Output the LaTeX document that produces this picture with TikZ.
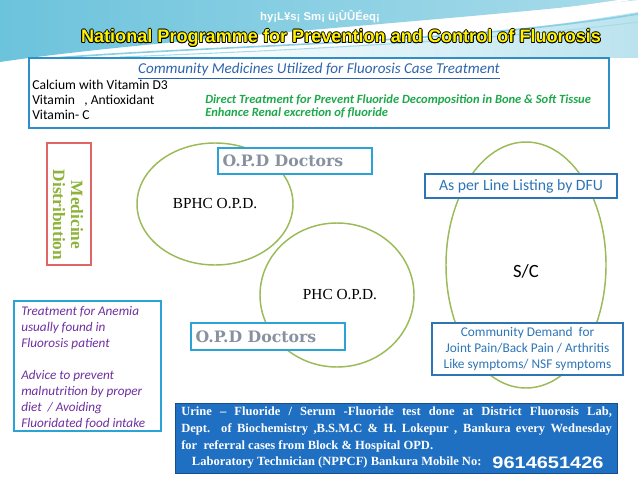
\documentclass[tikz,border=0pt]{standalone}
\usepackage{fontspec}
\setmainfont{Carlito}
\newfontfamily\serifb{Liberation Serif}[Ligatures=TeX]
\newfontfamily\slab{DejaVu Serif}
\newfontfamily\sansf{Liberation Sans}
\usetikzlibrary{shapes.geometric}
\definecolor{hdrL}{HTML}{6CC3DC}
\definecolor{hdrR}{HTML}{A9DCEA}
\definecolor{boxblue}{HTML}{2E8FC8}
\definecolor{opdblue}{HTML}{2BA3D6}
\definecolor{lineblue}{HTML}{2E75B6}
\definecolor{ellgreen}{HTML}{9BBB59}
\definecolor{medgreen}{HTML}{8DB33A}
\definecolor{medred}{HTML}{E06666}
\definecolor{txtgreen}{HTML}{1EA84C}
\definecolor{titleblue}{HTML}{2E64AE}
\definecolor{purp}{HTML}{7030A0}
\definecolor{opdgray}{HTML}{8891A0}
\definecolor{labfill}{HTML}{1F6FC2}
\definecolor{labdraw}{HTML}{174E8C}
\definecolor{ttlyellow}{HTML}{FFF200}
\newcommand\outlinetext[1]{\leavevmode\rlap{\color{black}%
\rlap{\hspace{-0.55pt}#1}\rlap{\hspace{0.55pt}#1}%
\rlap{\raisebox{0.55pt}{#1}}\rlap{\raisebox{-0.55pt}{#1}}%
\rlap{\hspace{0.4pt}\raisebox{0.4pt}{#1}}\rlap{\hspace{-0.4pt}\raisebox{0.4pt}{#1}}%
\rlap{\hspace{0.4pt}\raisebox{-0.4pt}{#1}}\rlap{\hspace{-0.4pt}\raisebox{-0.4pt}{#1}}}#1}
\tikzset{
  oval/.style={ellipse, draw=ellgreen, line width=1.1pt, fill=white, inner sep=0pt},
  opdbox/.style={draw=opdblue, line width=1.3pt, fill=white, inner sep=0pt,
     font=\slab\bfseries\fontsize{11.8}{13}\selectfont, text=opdgray},
  bluebox/.style={draw=lineblue, line width=1.2pt, fill=white, inner sep=0pt,
     text=lineblue, align=center, font=\fontsize{10}{11.8}\selectfont},
}
\begin{document}
\begin{tikzpicture}[x=0.75pt,y=-0.75pt]
\useasboundingbox (0,0) rectangle (638,478);
\fill[white] (0,0) rectangle (638,478);
% header decoration
\shade[left color=hdrL, right color=hdrR] (0,0) -- (638,0)
  .. controls (400,25) and (150,40) .. (0,62) -- cycle;
\shade[left color=white, right color=hdrR!80] (180,56)
  .. controls (350,48) and (520,32) .. (638,12) -- (638,58) -- (180,58) -- cycle;
\draw[hdrL!80, line width=1.2pt] (30,60) .. controls (200,45) and (450,45) .. (638,14);
\draw[hdrL!60, line width=0.8pt] (120,57) .. controls (300,50) and (500,40) .. (638,22);
\draw[white, line width=1.5pt] (520,14) .. controls (570,8) and (600,4) .. (638,-2);
\node[text=white, font=\sansf\bfseries\fontsize{8.5}{10}\selectfont] (subtitle) at (320,17) {hy¡L¥s¡ Sm¡ ü¡ÙÛÉeq¡};
\node[font=\sansf\bfseries\fontsize{12.5}{14}\selectfont, inner sep=0pt] (title) at (341,38)
  {\resizebox{390pt}{!}{\color{ttlyellow}\outlinetext{National Programme for Prevention and Control of Fluorosis}}};
% top box
\node[draw=boxblue, line width=1.5pt, fill=white, minimum width=435pt, minimum height=52.5pt, anchor=north west, inner sep=0pt] (topbox) at (28,57) {};
\node[text=titleblue, font=\itshape\fontsize{11.3}{13}\selectfont] (toptitle) at (319,71) {\underline{Community Medicines Utilized for Fluorosis Case Treatment}};
\node[anchor=north west, align=left, inner sep=0pt, font=\fontsize{10.2}{11.25}\selectfont] (meds) at (32,80)
  {Calcium with Vitamin D3\\Vitamin \ \ , Antioxidant\\Vitamin- C};
\node[anchor=north west, align=left, inner sep=0pt, text=txtgreen, font=\bfseries\itshape\fontsize{9.4}{9.8}\selectfont] (direct) at (205,94)
  {Direct Treatment for Prevent Fluoride Decomposition in Bone \& Soft Tissue\\Enhance Renal excretion of fluoride};
% medicine distribution
\node[draw=medred, line width=0.8pt, minimum width=33pt, minimum height=91.5pt, inner sep=0pt] (medbox) at (69,204) {};
\node[rotate=-90, align=center, text=medgreen, font=\serifb\bfseries\fontsize{13}{13.5}\selectfont] (medtext) at (68,215) {Medicine\\Distribution};
% ellipses
\node[oval, minimum width=117pt, minimum height=91.5pt] (bphc) at (215,204) {};
\node[font=\serifb\fontsize{11.5}{13}\selectfont] (bphctext) at (215,204) {BPHC O.P.D.};
\node[oval, minimum width=115.5pt, minimum height=108pt] (phc) at (337,295) {};
\node[font=\serifb\fontsize{11.5}{13}\selectfont] (phctext) at (340,295) {PHC O.P.D.};
\node[oval, minimum width=120pt, minimum height=184.5pt] (sc) at (526,265) {};
\node[font=\fontsize{14}{15}\selectfont] (sctext) at (526,271) {S/C};
% OPD doctor boxes
\node[opdbox, minimum width=115.5pt, minimum height=19.5pt] (opd1) at (295,161) {\hspace*{-6pt}O.P.D Doctors\hspace*{12pt}};
\node[opdbox, minimum width=115.5pt, minimum height=20pt] (opd2) at (268,336.5) {\hspace*{-6pt}O.P.D Doctors\hspace*{12pt}};
% blue boxes on S/C
\node[bluebox, minimum width=144pt, minimum height=18pt, font=\fontsize{11.8}{13}\selectfont] (listing) at (521,186) {As per Line Listing by DFU};
\node[bluebox, minimum width=143.25pt, minimum height=39pt] (demand) at (527.5,349)
  {Community Demand\ \ for\\Joint Pain/Back Pain / Arthritis\\Like symptoms/ NSF symptoms};
% treatment box
\node[draw=opdblue, line width=1.2pt, fill=white, minimum width=110.25pt, minimum height=97.5pt, anchor=north west, inner sep=0pt] (treatbox) at (13,300) {};
\node[anchor=north west, align=left, inner sep=0pt, text=purp, font=\itshape\fontsize{9.9}{12}\selectfont] (treattext) at (21,306)
  {Treatment for Anemia\\usually found in\\Fluorosis patient\\[12pt]Advice to prevent\\malnutrition by proper\\diet\ \ / Avoiding\\Fluoridated food intake};
% lab box
\node[draw=labdraw, line width=1pt, fill=labfill, minimum width=331.5pt, minimum height=52.5pt, anchor=north west, inner sep=0pt] (labbox) at (175,403) {};
\node[anchor=north west, inner sep=0pt, text=white, align=left, font=\serifb\bfseries\fontsize{9.4}{12.4}\selectfont] (labtext) at (181,407)
  {\hbox to 323pt{Urine – Fluoride / Serum -Fluoride test done at District Fluorosis Lab,}\\
   \hbox to 323pt{Dept. of Biochemistry ,B.S.M.C \& H. Lokepur , Bankura\ every\ Wednesday}\\
   for\ \ referral cases from Block \& Hospital OPD.\\
   \hspace*{8pt}Laboratory Technician (NPPCF) Bankura Mobile No:};
\node[text=white, inner sep=0pt, font=\sansf\bfseries\fontsize{12.5}{13}\selectfont] (phone) at (548,463) {\scalebox{1.2}[1]{9614651426}};
\end{tikzpicture}
\end{document}
